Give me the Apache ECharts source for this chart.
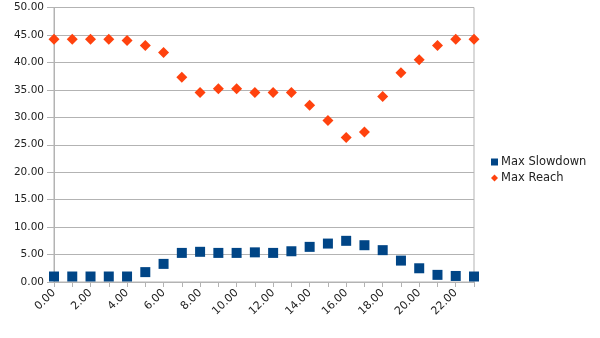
<!DOCTYPE html>
<html>
<head>
<meta charset="utf-8">
<script src="https://cdn.jsdelivr.net/npm/echarts@6/dist/echarts.min.js"></script>
<style>
  html, body { margin: 0; padding: 0; background: #fff; }
  #chart { width: 600px; height: 338px; }
</style>
</head>
<body>
<div id="chart"></div>
<script>
var hours = ['0.00', '1.00', '2.00', '3.00', '4.00', '5.00', '6.00', '7.00', '8.00', '9.00', '10.00', '11.00',
             '12.00', '13.00', '14.00', '15.00', '16.00', '17.00', '18.00', '19.00', '20.00', '21.00', '22.00', '23.00'];
var maxSlowdown = [1.0, 1.0, 1.0, 1.0, 1.0, 1.8, 3.3, 5.3, 5.5, 5.3, 5.3, 5.4,
                   5.3, 5.6, 6.4, 7.0, 7.5, 6.7, 5.8, 3.9, 2.5, 1.3, 1.1, 1.0];
var maxReach = [44.2, 44.2, 44.2, 44.2, 44.0, 43.1, 41.8, 37.3, 34.5, 35.2, 35.2, 34.5,
                34.5, 34.5, 32.2, 29.4, 26.3, 27.3, 33.8, 38.1, 40.5, 43.1, 44.2, 44.2];

var font = 'DejaVu Sans';
var gridColor = '#b3b3b3';

var chart = echarts.init(document.getElementById('chart'));
var option = {
    animation: false,
    backgroundColor: '#fff',
    grid: {
        left: 54, right: 126, top: 7.5, bottom: 56,
        show: true, borderColor: gridColor, borderWidth: 1
    },
    legend: {
        orient: 'vertical',
        left: 486, top: 151,
        itemWidth: 7, itemHeight: 7, itemGap: 4,
        textStyle: { fontFamily: font, fontSize: 11.5, color: '#222', padding: [0, 0, 0, -2] },
        data: ['Max Slowdown', 'Max Reach']
    },
    xAxis: {
        type: 'category',
        data: hours,
        boundaryGap: false,
        axisLine: { lineStyle: { color: gridColor } },
        axisTick: { interval: 0, length: 5, lineStyle: { color: gridColor } },
        axisLabel: {
            interval: 1, rotate: 45, margin: 9,
            fontFamily: font, fontSize: 11, color: '#222'
        },
        splitLine: { show: false }
    },
    yAxis: {
        type: 'value',
        min: 0, max: 50, interval: 5,
        axisLine: { show: true, lineStyle: { color: gridColor } },
        axisTick: { show: true, length: 7, lineStyle: { color: gridColor } },
        axisLabel: {
            margin: 10, fontFamily: font, fontSize: 10.5, color: '#222',
            formatter: function (v) { return v.toFixed(2); }
        },
        splitLine: { lineStyle: { color: gridColor } }
    },
    series: [
        {
            name: 'Max Slowdown',
            type: 'scatter',
            symbol: 'rect',
            symbolSize: 10,
            itemStyle: { color: '#004586', opacity: 1 },
            data: maxSlowdown
        },
        {
            name: 'Max Reach',
            type: 'scatter',
            symbol: 'diamond',
            symbolSize: 11,
            itemStyle: { color: '#ff420e', opacity: 1 },
            data: maxReach
        }
    ]
};
chart.setOption(option);
</script>
</body>
</html>
